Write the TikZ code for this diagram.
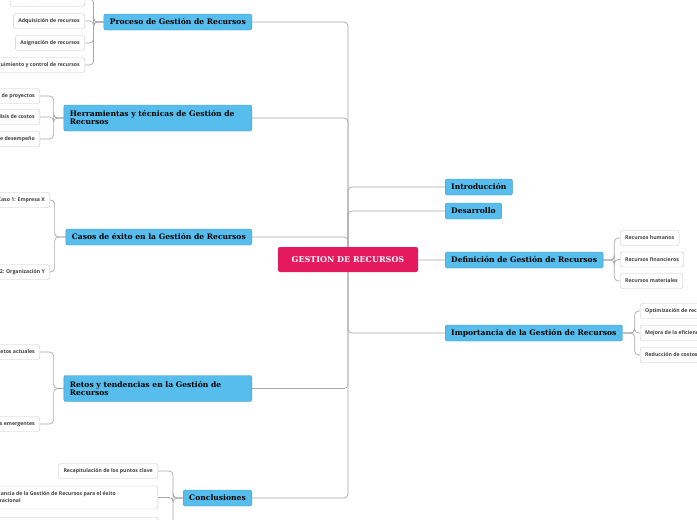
\documentclass[tikz,border=0pt]{standalone}
\usepackage{fontspec}
\setmainfont{Open Sans}
\newfontfamily\slab{DejaVu Serif}
\usetikzlibrary{backgrounds}
\definecolor{blu}{HTML}{56BDEC}
\definecolor{mag}{HTML}{E5195E}
\definecolor{lin}{HTML}{A8A8A8}
\tikzset{
 x=1pt,y=-1pt,
 head/.style={draw=blu!80!black,fill=blu,rounded corners=2pt,minimum height=16pt,inner xsep=6pt,inner ysep=2pt,font=\slab\bfseries\fontsize{7.6}{8}\selectfont,text=black,align=flush left},
 leaf/.style={draw=black!22,fill=white,rounded corners=2.5pt,minimum height=15pt,inner xsep=5pt,font=\fontsize{5.2}{6.5}\selectfont\bfseries,text=black!75,align=flush left},
 conn/.style={draw=lin,line width=0.7pt,rounded corners=4pt},
}
\begin{document}
\begin{tikzpicture}
\useasboundingbox (0,0) rectangle (697,520);
\node[fill=mag,rounded corners=2pt,minimum width=140pt,minimum height=25pt,font=\slab\bfseries\fontsize{8}{9}\selectfont,text=white] (c) at (348,259.5) {GESTION DE RECURSOS};
% right heads
\node[head,anchor=west] (intro) at (445,187) {Introducción};
\node[head,anchor=west] (des) at (445,211) {Desarrollo};
\node[head,anchor=west] (def) at (445,260) {Definición de Gestión de Recursos};
\node[head,anchor=west] (imp) at (445,333) {Importancia de la Gestión de Recursos};
% left heads
\node[head,anchor=east] (pro) at (252,22) {Proceso de Gestión de Recursos};
\node[head,anchor=east,text width=176pt,minimum height=26pt] (her) at (252,118) {Herramientas y técnicas de Gestión de\\Recursos};
\node[head,anchor=east] (cas) at (252,237) {Casos de éxito en la Gestión de Recursos};
\node[head,anchor=east,text width=176pt,minimum height=26pt] (ret) at (252,388.5) {Retos y tendencias en la Gestión de\\Recursos};
\node[head,anchor=east] (con) at (252,498) {Conclusiones};
% leaves
\node[leaf,anchor=east] (p1) at (85,-1) {Planificación de recursos};
\node[leaf,anchor=east] (p2) at (85,21) {Adquisición de recursos};
\node[leaf,anchor=east] (p3) at (85,43) {Asignación de recursos};
\node[leaf,anchor=east] (p4) at (85,65) {Seguimiento y control de recursos};
\node[leaf,anchor=east] (h1) at (40,96) {Software de gestión de proyectos};
\node[leaf,anchor=east] (h2) at (40,117) {Análisis de costos};
\node[leaf,anchor=east] (h3) at (40,139) {Evaluación de desempeño};
\node[leaf,anchor=east] (k1) at (50,200) {Caso 1: Empresa X};
\node[leaf,anchor=east] (k2) at (50,272) {Caso 2: Organización Y};
\node[leaf,anchor=east] (r1) at (40,352) {Retos actuales};
\node[leaf,anchor=east] (r2) at (40,424) {Tendencias emergentes};
\node[leaf,anchor=east] (q1) at (158,471) {Recapitulación de los puntos clave};
\node[leaf,anchor=east,text width=170pt,minimum height=23pt] (q2) at (158,497.5) {Importancia de la Gestión de Recursos para el éxito\\organizacional};
\node[leaf,anchor=north east,text width=170pt,minimum height=20pt] (q3) at (158,517) {Perspectivas futuras};
\node[leaf,anchor=west] (d1) at (620,238) {Recursos humanos};
\node[leaf,anchor=west] (d2) at (620,259.5) {Recursos financieros};
\node[leaf,anchor=west] (d3) at (620,281) {Recursos materiales};
\node[leaf,anchor=west] (i1) at (640,311) {Optimización de recursos};
\node[leaf,anchor=west] (i2) at (640,333) {Mejora de la eficiencia};
\node[leaf,anchor=west] (i3) at (640,355) {Reducción de costos};
\begin{scope}[on background layer]
\foreach \n in {pro,her,cas}{\draw[conn] (\n.east) -| (c.center);}
\foreach \n in {ret,con}{\draw[conn] (\n.east) -| (c.center);}
\foreach \n in {intro,des,def,imp}{\draw[conn] (c.center) |- (\n.west);}
\foreach \n in {p1,p2,p3,p4}{\draw[conn] (pro.west) -- ++(-10,0) |- (\n.east);}
\foreach \n in {h1,h2,h3}{\draw[conn] (her.west) -- ++(-10,0) |- (\n.east);}
\foreach \n in {k1,k2}{\draw[conn] (cas.west) -- ++(-11,0) |- (\n.east);}
\foreach \n in {r1,r2}{\draw[conn] (ret.west) -- ++(-10,0) |- (\n.east);}
\foreach \n in {q1,q2,q3}{\draw[conn] (con.west) -- ++(-10,0) |- (\n.east);}
\foreach \n in {d1,d2,d3}{\draw[conn] (def.east) -- ++(11,0) |- (\n.west);}
\foreach \n in {i1,i2,i3}{\draw[conn] (imp.east) -- ++(12,0) |- (\n.west);}
\end{scope}
\end{tikzpicture}
\end{document}
